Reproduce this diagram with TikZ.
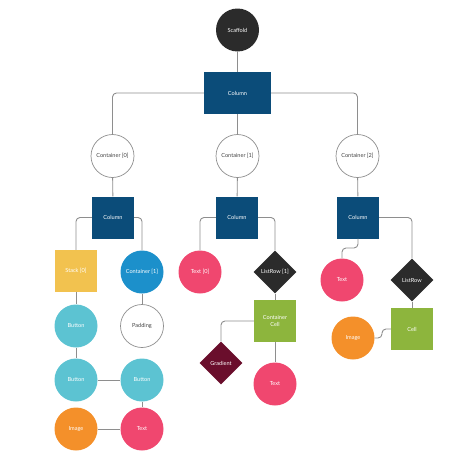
\documentclass[tikz,border=0pt]{standalone}
\usepackage{fontspec}
\setmainfont{Lato}
\usetikzlibrary{shapes.geometric}
\definecolor{cBlack}{HTML}{2B2B2B}
\definecolor{cNavy}{HTML}{0B4C79}
\definecolor{cYellow}{HTML}{F2C24F}
\definecolor{cBlue}{HTML}{1C90CB}
\definecolor{cCyan}{HTML}{5CC3D2}
\definecolor{cPink}{HTML}{F0476F}
\definecolor{cOrange}{HTML}{F4902A}
\definecolor{cGreen}{HTML}{8DB53D}
\definecolor{cMaroon}{HTML}{6A0E2C}
\definecolor{cLine}{HTML}{8E8E8E}
\definecolor{cText}{HTML}{444444}
\tikzset{
  base/.style={inner sep=0pt, font=\fontsize{5.6}{6.6}\selectfont, align=center},
  circ/.style={base, circle, minimum size=43pt},
  sqbox/.style={base, rectangle, minimum width=42pt, minimum height=42pt},
  dia/.style={base, diamond, aspect=1, minimum width=43pt, minimum height=43pt},
  whitec/.style={circ, draw=cLine, line width=0.7pt, fill=white, text=cText},
  link/.style={draw=cLine, line width=0.9pt, rounded corners=4pt}
}
\begin{document}
\begin{tikzpicture}[x=1pt,y=-1pt]
\useasboundingbox (0,0) rectangle (474,463);
% nodes
\node[circ, fill=cBlack, text=white] (scaffold) at (237.5,30) {Scaffold};
\node[base, rectangle, minimum width=67pt, minimum height=42pt, fill=cNavy, text=white] (col0) at (237.5,93) {Column};
\node[whitec] (c0) at (112.5,156) {Container [0]};
\node[whitec] (c1) at (237.5,156) {Container [1]};
\node[whitec] (c2) at (357.5,156) {Container [2]};
\node[sqbox, fill=cNavy, text=white] (colA) at (113,217.5) {Column};
\node[sqbox, fill=cNavy, text=white] (colB) at (237,217.5) {Column};
\node[sqbox, fill=cNavy, text=white] (colC) at (358,217.5) {Column};
% left branch
\node[sqbox, fill=cYellow, text=white] (stack) at (76,271) {Stack [0]};
\node[circ, fill=cBlue, text=white] (cont1) at (142,272) {Container [1]};
\node[circ, fill=cCyan, text=white] (btn1) at (76,326) {Button};
\node[whitec] (padding) at (142,326) {Padding};
\node[circ, fill=cCyan, text=white] (btn2) at (76,380) {Button};
\node[circ, fill=cCyan, text=white] (btn3) at (142,380) {Button};
\node[circ, fill=cOrange, text=white] (imgA) at (76,429) {Image};
\node[circ, fill=cPink, text=white] (textA) at (142,429) {Text};
% middle branch
\node[circ, fill=cPink, text=white] (text0) at (200,272) {Text [0]};
\node[dia, fill=cBlack, text=white] (lr1) at (275,272) {ListRow [1]};
\node[sqbox, fill=cGreen, text=white] (ccell) at (275,321) {Container\\[1pt]Cell};
\node[dia, fill=cMaroon, text=white] (grad) at (221,363) {Gradient};
\node[circ, fill=cPink, text=white] (textB) at (275,384) {Text};
% right branch
\node[circ, fill=cPink, text=white] (textC) at (342,280) {Text};
\node[dia, fill=cBlack, text=white] (lr2) at (412,280) {ListRow};
\node[sqbox, fill=cGreen, text=white] (cell) at (412,329) {Cell};
\node[circ, fill=cOrange, text=white] (imgC) at (353,338) {Image};
% connectors
\path[link] (scaffold) -- (col0);
\path[link] (col0.west) -| (c0.north);
\path[link] (col0.east) -| (c2.north);
\path[link] (col0.south) -- (c1.north);
\path[link] (c0) -- (colA);
\path[link] (c1) -- (colB);
\path[link] (c2) -- (colC);
\path[link] (colA.west) -| (stack.north);
\path[link] (colA.east) -| (cont1.north);
\path[link] (stack) -- (btn1);
\path[link] (cont1) -- (padding);
\path[link] (btn1) -- (btn2);
\path[link] (btn2) -- (btn3);
\path[link] (btn3) -- (textA);
\path[link] (imgA) -- (textA);
\path[link] (colB.west) -| (text0.north);
\path[link] (colB.east) -| (lr1.north);
\path[link] (lr1) -- (ccell);
\path[link] (ccell.west) -| (grad.north);
\path[link] (ccell) -- (textB);
\coordinate (rc1) at (358,248);
\path[link] (colC.south) -- (rc1) -| (textC.north);
\path[link] (colC.east) -| (lr2.north);
\path[link] (lr2) -- (cell);
\coordinate (rc2) at (382,329);
\path[link] (cell.west) -- (rc2) |- (imgC.east);
\end{tikzpicture}
\end{document}
